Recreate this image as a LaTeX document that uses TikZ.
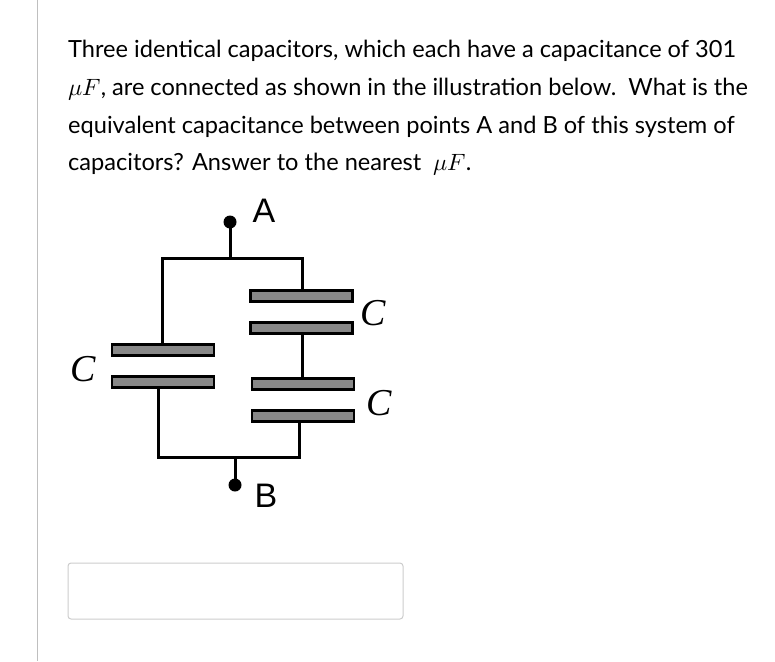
\documentclass[tikz,border=0pt]{standalone}
\usepackage{fontspec}
\usepackage{unicode-math}
\setmathfont{Latin Modern Math}
\setmainfont{Lato}
\newfontfamily\armfont{Liberation Sans}
\newfontfamily\cfont{Liberation Serif}
\definecolor{plate}{RGB}{136,136,136}
\begin{document}
\begin{tikzpicture}[x=1pt,y=-1pt,
  wire/.style={line width=3pt},
  platebox/.style={draw=black,line width=2.2pt,fill=plate,minimum width=102pt,minimum height=11pt,inner sep=0pt},
  txt/.style={anchor=base west,inner sep=0pt,font=\fontsize{23.6}{26}\selectfont},
  clab/.style={font=\cfont\itshape\fontsize{38}{38}\selectfont,inner sep=0pt},
  plab/.style={font=\armfont\fontsize{34}{34}\selectfont,inner sep=0pt}]
\useasboundingbox (0,0) rectangle (775,661);
\draw[line width=1pt,black!25] (37,0) -- (37,661);
\node[txt] (l1) at (68,57) {Three identical capacitors, which each have a capacitance of 301};
\node[txt] (l2) at (68,95) {$\mu F$, are connected as shown in the illustration below.\ \ What is the};
\node[txt] (l3) at (68,133) {equivalent capacitance between points A and B of this system of};
\node[txt] (l4) at (68,170) {capacitors? Answer to the nearest \ $\mu F$.};
\coordinate (A) at (230,222);
\coordinate (Atop) at (230,258);
\coordinate (TL) at (162,258);
\coordinate (TR) at (302,258);
\coordinate (BL) at (158,457);
\coordinate (BR) at (299,457);
\coordinate (Bbot) at (235,457);
\coordinate (B) at (235,485);
\node[platebox] (r1a) at (301.5,296) {};
\node[platebox] (r1b) at (301.5,328) {};
\node[platebox] (r2a) at (303,384) {};
\node[platebox] (r2b) at (303,416) {};
\node[platebox] (la) at (163,350) {};
\node[platebox] (lb) at (163,382) {};
\draw[wire] (A) -- (Atop);
\draw[wire] (TL |- la.north) -- (TL) -- (TR) -- (TR |- r1a.north);
\draw[wire] (r1b.south -| TR) -- (r2a.north -| TR);
\draw[wire] (BR |- r2b.south) -- (BR) -- (BL) -- (BL |- lb.south);
\draw[wire] (Bbot) -- (B);
\fill (A) circle (6.5pt);
\fill (B) circle (6.5pt);
\node[plab] (LA) at (264,211) {A};
\node[plab] (LB) at (266,496) {B};
\node[clab] (c1) at (83,369) {C};
\node[clab] (c2) at (373,313) {C};
\node[clab] (c3) at (379,403) {C};
\draw[black!20,line width=1pt,rounded corners=3pt] (68,563) rectangle (403,619);
\end{tikzpicture}
\end{document}
